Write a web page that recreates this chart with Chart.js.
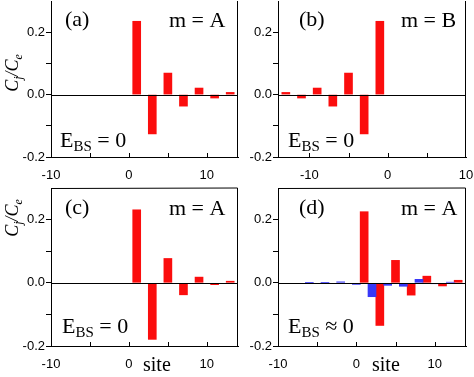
<!DOCTYPE html>
<html>
<head>
<meta charset="utf-8">
<script src="https://cdn.jsdelivr.net/npm/chart.js@4"></script>
<style>
  html, body { margin: 0; padding: 0; background: #fff; overflow: hidden; }
  #wrap { position: relative; width: 474px; height: 377px; }
  #wrap canvas { position: absolute; }
</style>
</head>
<body>
<div id="wrap">
  <canvas id="pa" width="240" height="185" style="left:0;top:0"></canvas>
  <canvas id="pb" width="240" height="185" style="left:234px;top:0"></canvas>
  <canvas id="pc" width="240" height="192" style="left:0;top:185px"></canvas>
  <canvas id="pd" width="240" height="192" style="left:234px;top:185px"></canvas>
</div>
<script>
// sites (x) and correlation values Cj/Ce (y)
const sitesRight = [1, 3, 5, 7, 9, 11, 13];
const sitesLeft = [-1, -3, -5, -7, -9, -11, -13];
const valuesA = [0.235, -0.126, 0.069, -0.037, 0.021, -0.011, 0.007];
const valuesB = [0.235, -0.126, 0.069, -0.037, 0.021, -0.011, 0.007];
const valuesC = [0.231, -0.179, 0.077, -0.038, 0.018, -0.006, 0.005];
const valuesDRed = [0.225, -0.135, 0.071, -0.039, 0.021, -0.010, 0.008];
const sitesDBlue = [-6, -4, -2, 0, 2, 4, 6, 8, 10, 12];
const valuesDBlue = [0.001, 0.001, 0.003, -0.005, -0.044, -0.008, -0.011, 0.011, -0.003, 0.002];

const xTickValues = [-10, -5, 0, 5, 10];
const xTickLabels = ['-10', '', '0', '', '10'];
const yTickValues = [-0.2, -0.1, 0, 0.1, 0.2];
const yTickLabels = ['-0.2', '', '0.0', '', '0.2'];

const RED = '#fb0d0d';
const BLUE = '#3838f8';
const serif = '"Liberation Serif", "Times New Roman", serif';
const sans = '"Liberation Sans", Arial, sans-serif';

function pts(xs, ys) {
  return xs.map((x, i) => ({ x: x, y: ys[i] }));
}

// draw a string made of normal and subscript pieces
function drawRich(ctx, x, y, parts, size, italic) {
  let cx = x;
  parts.forEach(p => {
    const s = p.sub ? Math.round(size * 0.68) : size;
    ctx.font = (italic ? 'italic ' : '') + s + 'px ' + serif;
    ctx.fillText(p.t, cx, y + (p.sub ? size * 0.2 : 0));
    cx += ctx.measureText(p.t).width;
  });
  return cx - x;
}
function richWidth(ctx, parts, size, italic) {
  let w = 0;
  parts.forEach(p => {
    const s = p.sub ? Math.round(size * 0.68) : size;
    ctx.font = (italic ? 'italic ' : '') + s + 'px ' + serif;
    w += ctx.measureText(p.t).width;
  });
  return w;
}

function noPad(s) {
  s.paddingTop = 0; s.paddingBottom = 0; s.paddingLeft = 0; s.paddingRight = 0;
}

function makePanel(id, cfg) {
  const decor = {
    id: 'decor',
    afterDraw(chart) {
      const ctx = chart.ctx;
      const a = chart.chartArea;
      const xs = chart.scales.x, ys = chart.scales.y;
      ctx.save();
      ctx.strokeStyle = '#000';
      ctx.lineWidth = 1;
      ctx.beginPath();
      // right edge, optional top edge
      ctx.moveTo(Math.round(a.right) - 0.5, a.bottom);
      ctx.lineTo(Math.round(a.right) - 0.5, a.top);
      if (cfg.topBorder) ctx.lineTo(a.left, Math.round(a.top) + 0.5);
      // zero line
      const y0 = Math.round(ys.getPixelForValue(0)) + 0.5;
      ctx.moveTo(a.left, y0);
      ctx.lineTo(a.right, y0);
      // inward ticks on x axis
      xTickValues.forEach(v => {
        const px = Math.round(xs.getPixelForValue(v)) + 0.5;
        if (px > a.left + 1 && px < a.right - 1) {
          ctx.moveTo(px, a.bottom);
          ctx.lineTo(px, a.bottom - 4);
        }
      });
      ctx.stroke();

      ctx.fillStyle = '#000';
      ctx.textBaseline = 'alphabetic';
      ctx.textAlign = 'left';
      ctx.font = '22px ' + serif;
      ctx.fillText(cfg.tag, cfg.tagPos[0], cfg.tagPos[1]);
      ctx.fillText(cfg.mText, cfg.mPos[0], cfg.mPos[1]);
      drawRich(ctx, cfg.ePos[0], cfg.ePos[1],
        [{ t: 'E' }, { t: 'BS', sub: true }, { t: cfg.eTail }], 22, false);

      if (cfg.yTitle) {
        const parts = [{ t: 'C' }, { t: 'j', sub: true }, { t: '/C' }, { t: 'e', sub: true }];
        const w = richWidth(ctx, parts, 18, true);
        ctx.save();
        ctx.translate(cfg.yTitle[0], cfg.yTitle[1]);
        ctx.rotate(-Math.PI / 2);
        drawRich(ctx, -w / 2, 0, parts, 18, true);
        ctx.restore();
      }
      if (cfg.site) {
        ctx.font = '20px ' + serif;
        ctx.fillText('site', cfg.site[0], cfg.site[1]);
      }
      ctx.restore();
    }
  };

  new Chart(document.getElementById(id), {
    type: 'bar',
    data: { datasets: cfg.datasets },
    options: {
      responsive: false,
      animation: false,
      devicePixelRatio: 1,
      layout: { autoPadding: false, padding: cfg.padding },
      plugins: { legend: { display: false }, tooltip: { enabled: false } },
      datasets: { bar: { barThickness: 8, grouped: false, borderWidth: 0 } },
      scales: {
        x: {
          type: 'linear',
          offset: false,
          min: cfg.xMin,
          max: cfg.xMax,
          afterBuildTicks(s) { s.ticks = xTickValues.map(v => ({ value: v })); },
          afterFit(s) { s.height = cfg.xHeight; noPad(s); },
          grid: { display: false, offset: false },
          border: { display: true, color: '#000', width: 1 },
          ticks: {
            autoSkip: false,
            maxRotation: 0,
            padding: 3,
            color: '#000',
            font: { family: sans, size: 13 },
            callback: v => xTickLabels[xTickValues.indexOf(v)] || ''
          }
        },
        y: {
          min: -0.2,
          max: 0.3,
          afterBuildTicks(s) { s.ticks = yTickValues.map(v => ({ value: v })); },
          afterFit(s) { s.width = cfg.yWidth; noPad(s); },
          grid: { display: true, drawOnChartArea: false, drawTicks: true, tickLength: 5, color: '#000', tickColor: '#000' },
          border: { display: true, color: '#000', width: 1 },
          ticks: {
            padding: 1,
            color: '#000',
            font: { family: sans, size: 13 },
            callback: v => {
              const i = yTickValues.findIndex(t => Math.abs(t - v) < 1e-6);
              return i >= 0 ? yTickLabels[i] : '';
            }
          }
        }
      }
    },
    plugins: [decor]
  });
}

makePanel('pa', {
  datasets: [{ data: pts(sitesRight, valuesA), backgroundColor: RED }],
  xMin: -10, xMax: 14, yWidth: 51, xHeight: 28,
  padding: { left: 0, right: 2, top: 1, bottom: 0 },
  tag: '(a)', tagPos: [65, 26], mText: 'm = A', mPos: [169, 27],
  ePos: [60, 147], eTail: ' = 0', yTitle: [18, 73]
});
makePanel('pb', {
  datasets: [{ data: pts(sitesLeft, valuesB), backgroundColor: RED }],
  xMin: -14, xMax: 10, yWidth: 44, xHeight: 28,
  padding: { left: 0, right: 8, top: 1, bottom: 0 },
  tag: '(b)', tagPos: [65, 26], mText: 'm = B', mPos: [167, 27],
  ePos: [54, 147], eTail: ' = 0'
});
makePanel('pc', {
  datasets: [{ data: pts(sitesRight, valuesC), backgroundColor: RED }],
  xMin: -10, xMax: 14, yWidth: 51, xHeight: 31, topBorder: true,
  padding: { left: 0, right: 2, top: 3, bottom: 0 },
  tag: '(c)', tagPos: [65, 29], mText: 'm = A', mPos: [169, 30],
  ePos: [62, 148], eTail: ' = 0', yTitle: [18, 33], site: [143, 186]
});
makePanel('pd', {
  datasets: [
    { data: pts(sitesDBlue, valuesDBlue), backgroundColor: BLUE },
    { data: pts(sitesRight, valuesDRed), backgroundColor: RED }
  ],
  xMin: -10, xMax: 14, yWidth: 44, xHeight: 31, topBorder: true,
  padding: { left: 0, right: 8, top: 3, bottom: 0 },
  tag: '(d)', tagPos: [65, 29], mText: 'm = A', mPos: [167, 30],
  ePos: [54, 148], eTail: ' \u2248 0', site: [138, 186]
});
</script>
</body>
</html>
